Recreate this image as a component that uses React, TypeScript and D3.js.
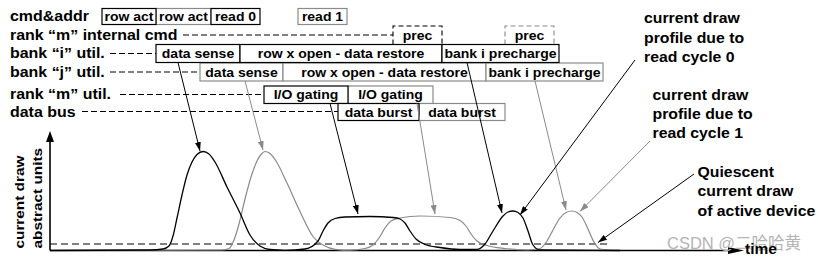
import React from "react";
import * as d3 from "d3";

// ---------- data (time in abstract units, current in abstract units) ----------
const rowLabels = ["cmd&addr", "rank “m” internal cmd", "bank “i” util.", "bank “j” util.", "rank “m” util.", "data bus"];

type Slot = { label: string; start: number; end: number; cycle: number };
const cmdAddr: Slot[] = [
  { label: "row act", start: 52, end: 106, cycle: 0 },
  { label: "row act", start: 106, end: 161, cycle: 1 },
  { label: "read 0", start: 161, end: 210, cycle: 0 },
  { label: "read 1", start: 248, end: 297, cycle: 1 },
];
const internalCmd: Slot[] = [
  { label: "prec", start: 343, end: 392, cycle: 0 },
  { label: "prec", start: 455, end: 504, cycle: 1 },
];
const bankI: Slot[] = [
  { label: "data sense", start: 106, end: 190, cycle: 0 },
  { label: "row x open - data restore", start: 190, end: 392, cycle: 0 },
  { label: "bank i precharge", start: 392, end: 509, cycle: 0 },
];
const bankJ: Slot[] = [
  { label: "data sense", start: 150, end: 233, cycle: 1 },
  { label: "row x open - data restore", start: 233, end: 436, cycle: 1 },
  { label: "bank i precharge", start: 436, end: 553, cycle: 1 },
];
const rankM: Slot[] = [
  { label: "I/O gating", start: 214, end: 298, cycle: 0 },
  { label: "I/O gating", start: 298, end: 383, cycle: 1 },
];
const dataBus: Slot[] = [
  { label: "data burst", start: 288, end: 369, cycle: 0 },
  { label: "data burst", start: 369, end: 455, cycle: 1 },
];

// current draw profile of read cycle 0
const time0 = [0, 100, 113, 119, 123, 127, 132, 137, 142, 147, 153, 159, 165, 177, 190, 200, 210, 220, 235, 255, 268, 273, 278, 285, 295, 320, 343, 350, 355, 360, 366, 375, 390, 410, 427, 435, 443, 453, 458, 463, 468, 473, 478, 483, 490, 570];
const current0 = [0, 0.5, 1.5, 4.5, 14.5, 32.5, 55.5, 75.5, 88.5, 96, 99, 96.5, 88.5, 63.5, 37.5, 15.5, 4.5, 1, 0.2, 1.5, 9.5, 19.5, 27.5, 32, 33.5, 34, 33, 31.5, 27.5, 19.5, 11.5, 6, 3, 1, 1, 6.5, 19.5, 34.5, 38.5, 39.5, 38, 32.5, 19.5, 5.5, 0.5, 0];

// current draw profile of read cycle 1
const time1 = [0, 172, 179, 184, 189, 195, 201, 207, 211, 215, 220, 226, 237, 250, 263, 274, 285, 300, 315, 323, 329, 335, 341, 350, 370, 400, 410, 416, 421, 427, 437, 455, 478, 490, 497, 503, 510, 516, 522, 527, 532, 538, 544, 550, 570];
const current1 = [0, 0.5, 2, 10.5, 26.5, 51.5, 73.5, 89.5, 96, 99, 97, 89.5, 67.5, 39, 14, 5, 1.2, 0.3, 2, 5.5, 12.5, 22.5, 29.5, 32.5, 34.5, 33, 30, 24.5, 16.5, 9.5, 5, 2, 0.7, 2, 9.5, 20.5, 32.5, 38, 39.5, 38, 33.5, 21.5, 8.5, 1.5, 0];

const quiescent = 6.5;
const quiescentEnd = 557;

// leader arrows from a slot to the curve: [fromTime, lane, toTime, toCurrent, cycle]
const slotArrows: [number, string, number, number, number][] = [
  [128, "bankI", 150, 99.5, 0],
  [195, "bankJ", 213, 100.5, 1],
  [280, "rankM", 308, 36.5, 0],
  [367, "rankM", 385, 36.5, 1],
  [417, "bankI", 452, 37.5, 0],
  [485, "bankJ", 516, 40.5, 1],
];

const note0 = ["current draw", "profile due to", "read cycle 0"];
const note1 = ["current draw", "profile due to", "read cycle 1"];
const note2 = ["Quiescent", "current draw", "of active device"];
// note arrow targets: [toTime, toCurrent, cycle]
const noteTargets: [number, number, number][] = [
  [470, 35.5, 0],
  [530, 39, 1],
  [548, 8, 0],
];
const yLabel = ["current draw", "abstract units"];
const xLabel = "time";
const watermark = "CSDN @二哈哈黄";

// ---------- layout ----------
const W = 818, H = 261;
const FONT = "'Liberation Sans', Arial, Helvetica, sans-serif";
const BLACK = "#000";
const GRAY = "#8a8a8a";
const col = (c: number) => (c === 0 ? BLACK : GRAY);

const lanes: Record<string, [number, number]> = {
  cmd: [8.5, 24.5],
  prec: [26, 44.5],
  bankI: [44.5, 62.5],
  bankJ: [63, 81],
  rankM: [86, 103.5],
  bus: [103.5, 120.5],
};
const labelBaselines = [21, 39.5, 58, 76.5, 99, 116.5];
const leaders: [number, number, number][] = [
  [183, 343, 35],
  [110, 106, 53.5],
  [110, 150, 72],
  [120, 214, 94.5],
  [82, 288, 111.5],
];

const x = d3.scaleLinear().domain([0, 700]).range([50, 750]);
const y = d3.scaleLinear().domain([0, 100]).range([250.5, 150.5]);

function Txt(p: { x: number; y: number; t: string; size?: number; sx?: number; anchor?: string; rot?: number; fill?: string; weight?: string; family?: string }) {
  const { size = 14, sx = 1.13, anchor = "start", rot = 0, fill = "#000", weight = "bold", family = FONT } = p;
  return (
    <text
      transform={`translate(${p.x},${p.y}) rotate(${rot}) scale(${sx},1)`}
      fontSize={size}
      fontFamily={family}
      fontWeight={weight}
      textAnchor={anchor}
      fill={fill}
    >
      {p.t}
    </text>
  );
}

function Boxes({ slots, lane, dashed }: { slots: Slot[]; lane: string; dashed?: boolean }) {
  const [t, b] = lanes[lane];
  const ordered = [...slots].sort((a, c) => c.cycle - a.cycle);
  return (
    <g>
      {ordered.map((s, i) => (
        <g key={i}>
          {dashed ? (
            <path
              d={`M${x(s.start)},${b} V${t} H${x(s.end)} V${b}`}
              fill="none"
              stroke={col(s.cycle)}
              strokeWidth={1.1}
              strokeDasharray="5,3"
            />
          ) : (
            <rect x={x(s.start)} y={t} width={x(s.end) - x(s.start)} height={b - t} fill="#fff" stroke={col(s.cycle)} strokeWidth={1.2} />
          )}
          <Txt x={(x(s.start) + x(s.end)) / 2} y={(t + b) / 2 + 4.5} t={s.label} size={12.4} anchor="middle" />
        </g>
      ))}
    </g>
  );
}

export default function App() {
  const line = d3.line<number>().curve(d3.curveMonotoneX);
  const path0 = line.x((_, i) => x(time0[i])).y((d) => y(d))(current0) || "";
  const path1 = d3.line<number>().curve(d3.curveMonotoneX).x((_, i) => x(time1[i])).y((d) => y(d))(current1) || "";
  const noteOrigins: [number, number][] = [
    [635, 60],
    [650, 141],
    [694, 174],
  ];
  const base = y(0);
  return (
    <svg width={W} height={H} style={{ position: "absolute", left: 0, top: 0 }} xmlns="http://www.w3.org/2000/svg">
      <defs>
        {[0, 1].map((c) => (
          <marker key={c} id={`ah${c}`} markerUnits="userSpaceOnUse" markerWidth={10} markerHeight={6} refX={9} refY={3} orient="auto">
            <path d="M0,0 L9,3 L0,6 Z" fill={col(c)} />
          </marker>
        ))}
      </defs>
      <rect width={W} height={H} fill="#fff" />

      {/* row labels */}
      {rowLabels.map((l, i) => (
        <Txt key={i} x={10} y={labelBaselines[i]} t={l} size={14} sx={1.14} />
      ))}
      {leaders.map(([a, t, yy], i) => (
        <line key={i} x1={a} x2={i === 0 ? x(t) : x(t)} y1={yy} y2={yy} stroke="#000" strokeWidth={1} strokeDasharray="6,3" />
      ))}

      <Boxes slots={cmdAddr} lane="cmd" />
      <Boxes slots={internalCmd} lane="prec" dashed />
      <Boxes slots={bankJ} lane="bankJ" />
      <Boxes slots={bankI} lane="bankI" />
      <Boxes slots={rankM} lane="rankM" />
      <Boxes slots={dataBus} lane="bus" />

      {/* axes */}
      <line x1={50} y1={base} x2={50} y2={138} stroke="#000" strokeWidth={1.6} />
      <path d={`M50,131 L54,142 L46,142 Z`} fill="#000" />
      <line x1={50} y1={base} x2={730} y2={base} stroke="#000" strokeWidth={1.6} />
      <path d={`M744,${base} L728,${base - 3.5} L728,${base + 3.5} Z`} fill="#000" />

      {/* quiescent level */}
      <line x1={x(0)} x2={x(quiescentEnd)} y1={y(quiescent)} y2={y(quiescent)} stroke="#000" strokeWidth={1} strokeDasharray="7,4" />

      {/* curves */}
      <path d={path1} fill="none" stroke={GRAY} strokeWidth={1.2} />
      <path d={path0} fill="none" stroke={BLACK} strokeWidth={1.3} />

      {/* slot arrows */}
      {slotArrows.map(([ft, lane, tt, tc, c], i) => (
        <line key={i} x1={x(ft)} y1={lanes[lane][1]} x2={x(tt)} y2={y(tc)} stroke={col(c)} strokeWidth={1} markerEnd={`url(#ah${c})`} />
      ))}
      {/* note arrows */}
      {noteTargets.map(([tt, tc, c], i) => (
        <line key={i} x1={noteOrigins[i][0]} y1={noteOrigins[i][1]} x2={x(tt)} y2={y(tc)} stroke={col(c)} strokeWidth={1} markerEnd={`url(#ah${c})`} />
      ))}

      {/* notes */}
      {note0.map((l, i) => (
        <Txt key={"a" + i} x={644} y={23 + i * 19.5} t={l} />
      ))}
      {note1.map((l, i) => (
        <Txt key={"b" + i} x={652.5} y={100 + i * 19} t={l} />
      ))}
      {note2.map((l, i) => (
        <Txt key={"c" + i} x={697.5} y={177 + i * 19.3} t={l} />
      ))}

      {/* y label */}
      {yLabel.map((l, i) => (
        <Txt key={"y" + i} x={24 + i * 18} y={248.5} t={l} size={13.7} sx={1.12} rot={-90} />
      ))}

      {/* watermark */}
      <Txt x={667} y={248.5} t={watermark} size={16.5} sx={1} weight="normal" fill="#b4b4b4" family="'Liberation Sans', 'Noto Sans CJK SC', sans-serif" />
      <Txt x={745} y={253.5} t={xLabel} size={14} sx={1.11} />
    </svg>
  );
}
